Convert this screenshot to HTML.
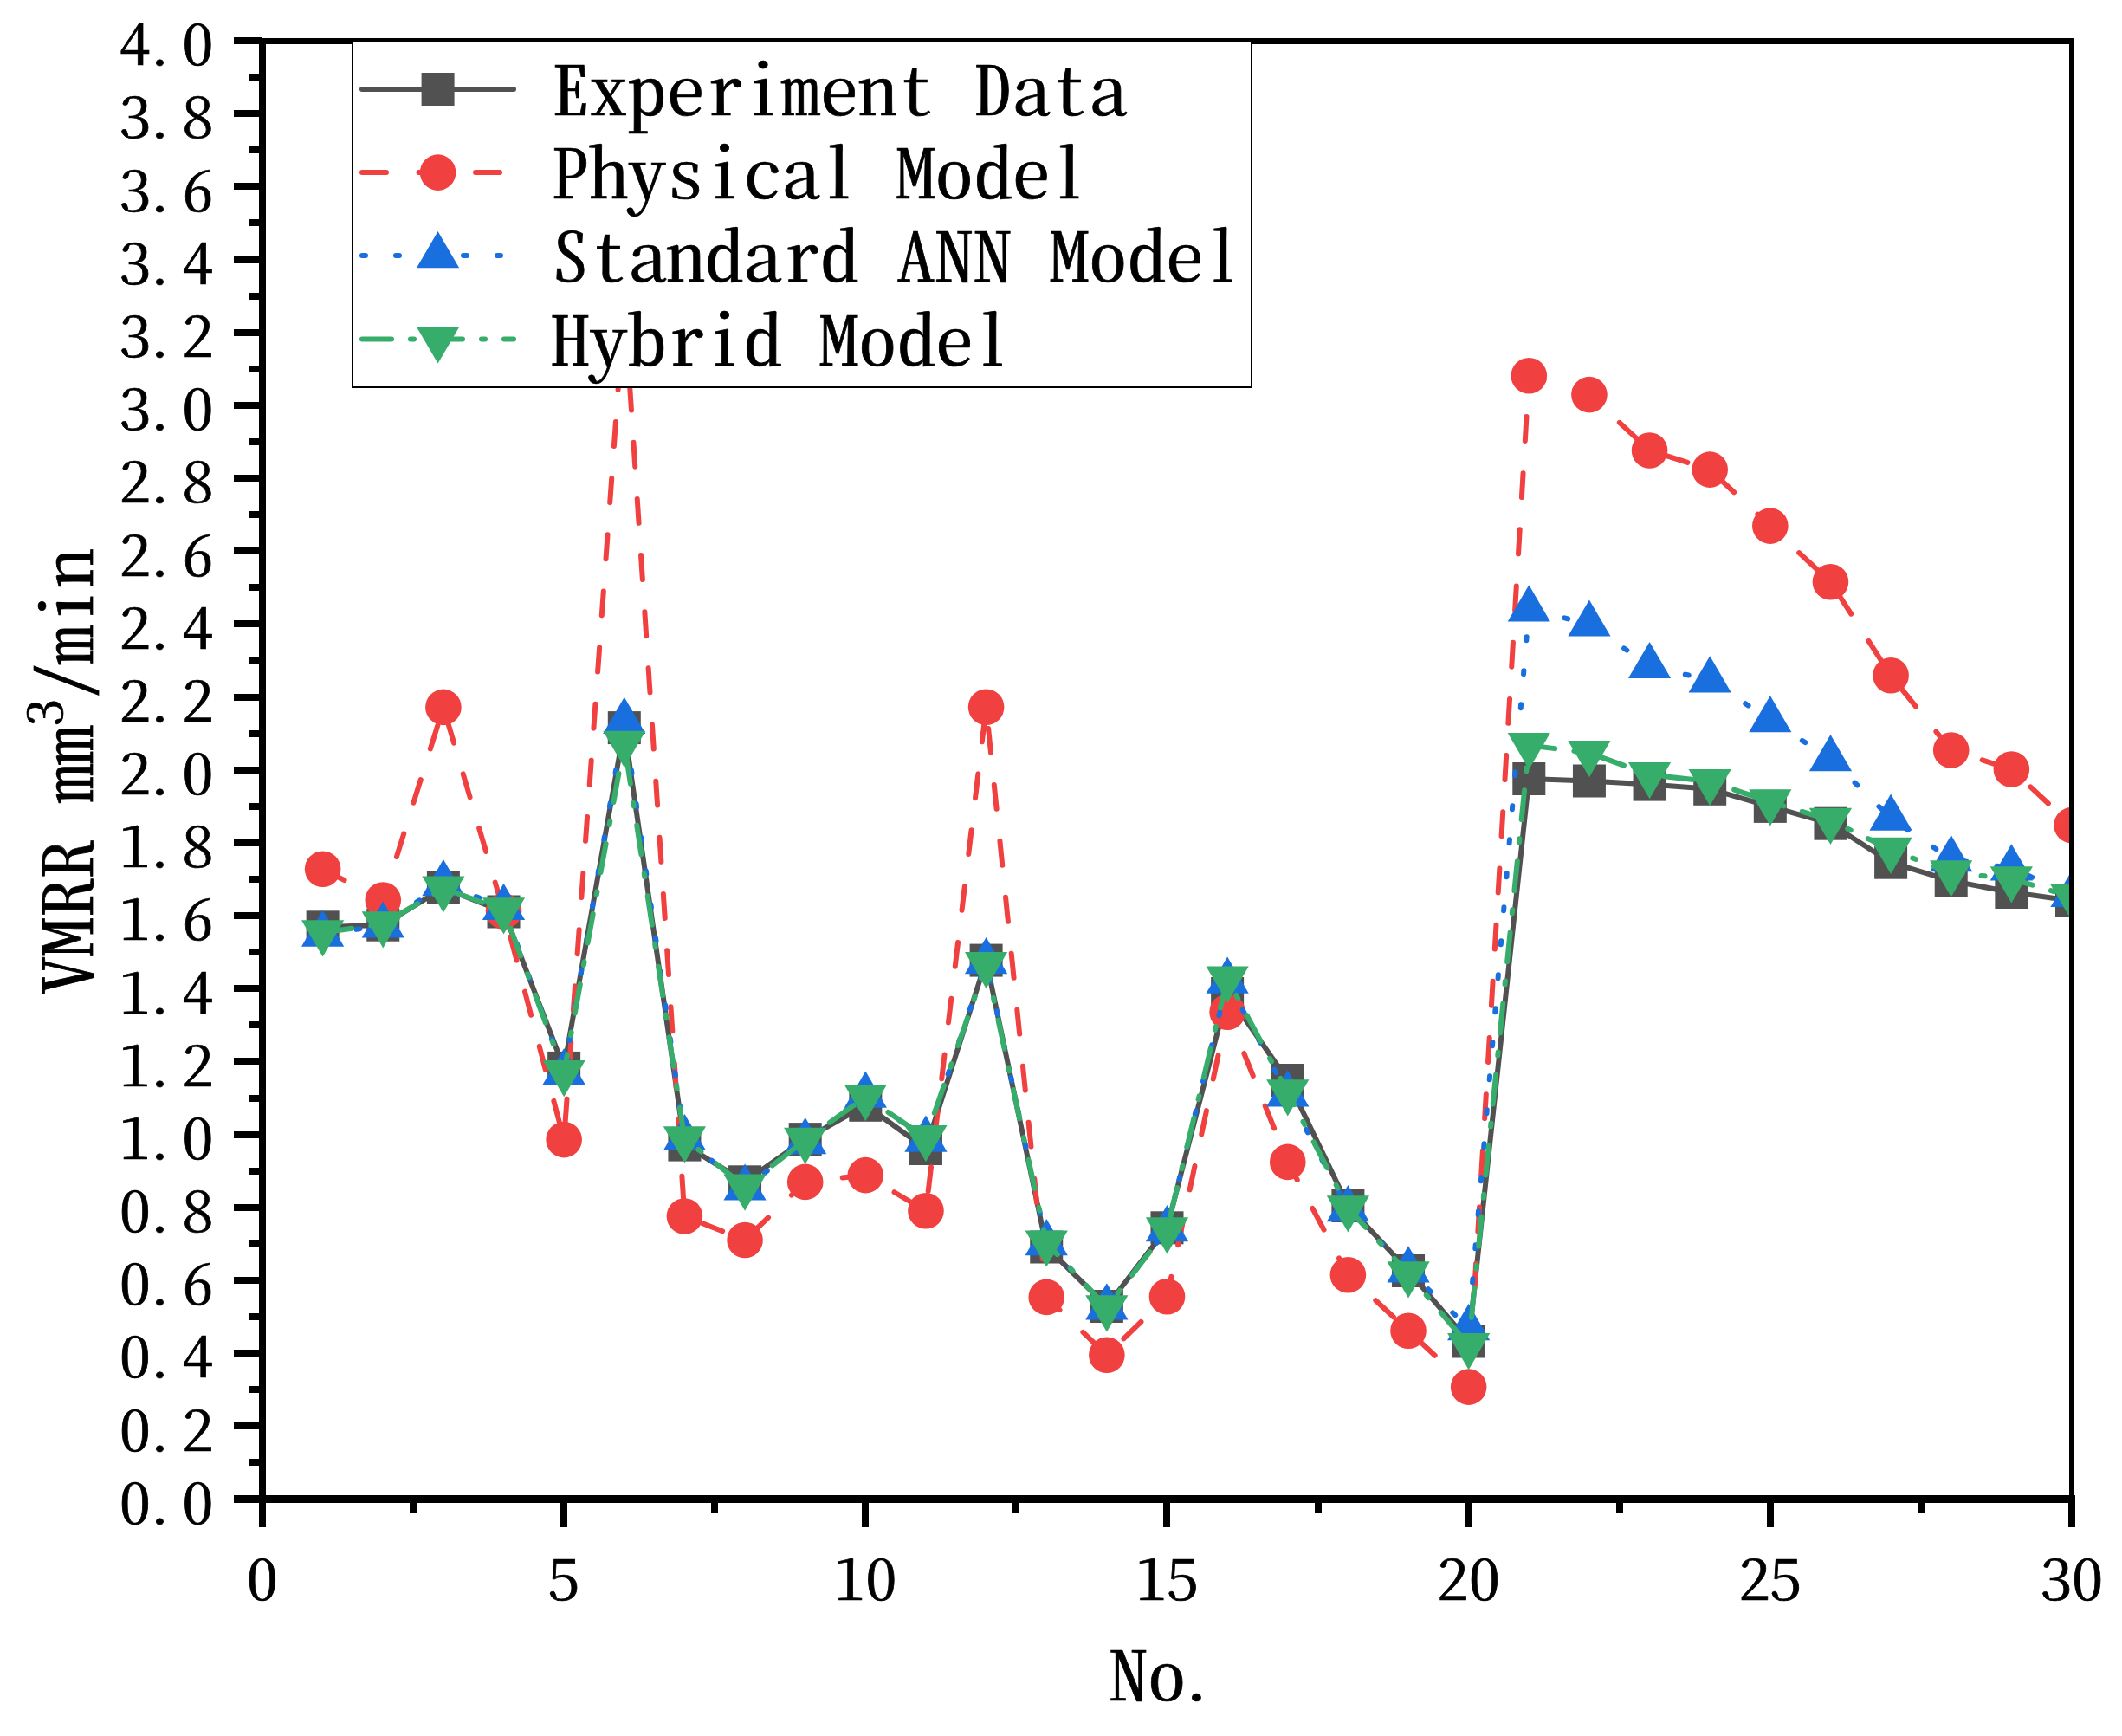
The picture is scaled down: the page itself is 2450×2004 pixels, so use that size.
<!DOCTYPE html>
<html lang="en"><head><meta charset="utf-8"><title>VMRR comparison</title>
<style>html,body{margin:0;padding:0;background:#fff}svg{display:block}text{stroke:#000;stroke-width:0.7px;font-family:'Noto Serif CJK SC','Liberation Serif',serif;font-feature-settings:"hwid";fill:#000;text-anchor:middle;white-space:pre}</style></head><body>
<svg width="2450" height="2004" viewBox="0 0 2450 2004">
<rect width="2450" height="2004" fill="#fff"/>
<defs><clipPath id="pa"><rect x="303" y="47" width="2089" height="1683.5"/></clipPath></defs>
<g clip-path="url(#pa)">
<polyline points="372.63,1070.3 442.27,1067.7 511.9,1025 581.53,1052.5 651.16,1232.9 720.8,840.1 790.43,1321.6 860.06,1364.3 929.7,1315.1 999.33,1275.8 1068.96,1326 1138.6,1108.6 1208.23,1439.5 1277.86,1508 1347.49,1417.3 1417.13,1147 1486.76,1247 1556.39,1392 1626.03,1467 1695.66,1548.5 1765.29,899 1834.93,901.5 1904.56,905.6 1974.19,910.8 2043.82,930.9 2113.46,950.7 2183.09,995.7 2252.72,1016.8 2322.36,1030 2391.99,1039.8" fill="none" stroke="#515151" stroke-width="6" stroke-linejoin="round" stroke-linecap="round"/>
<g fill="#515151"><rect x="353.63" y="1051.3" width="38" height="38"/><rect x="423.27" y="1048.7" width="38" height="38"/><rect x="492.9" y="1006" width="38" height="38"/><rect x="562.53" y="1033.5" width="38" height="38"/><rect x="632.16" y="1213.9" width="38" height="38"/><rect x="701.8" y="821.1" width="38" height="38"/><rect x="771.43" y="1302.6" width="38" height="38"/><rect x="841.06" y="1345.3" width="38" height="38"/><rect x="910.7" y="1296.1" width="38" height="38"/><rect x="980.33" y="1256.8" width="38" height="38"/><rect x="1049.96" y="1307" width="38" height="38"/><rect x="1119.6" y="1089.6" width="38" height="38"/><rect x="1189.23" y="1420.5" width="38" height="38"/><rect x="1258.86" y="1489" width="38" height="38"/><rect x="1328.49" y="1398.3" width="38" height="38"/><rect x="1398.13" y="1128" width="38" height="38"/><rect x="1467.76" y="1228" width="38" height="38"/><rect x="1537.39" y="1373" width="38" height="38"/><rect x="1607.03" y="1448" width="38" height="38"/><rect x="1676.66" y="1529.5" width="38" height="38"/><rect x="1746.29" y="880" width="38" height="38"/><rect x="1815.93" y="882.5" width="38" height="38"/><rect x="1885.56" y="886.6" width="38" height="38"/><rect x="1955.19" y="891.8" width="38" height="38"/><rect x="2024.82" y="911.9" width="38" height="38"/><rect x="2094.46" y="931.7" width="38" height="38"/><rect x="2164.09" y="976.7" width="38" height="38"/><rect x="2233.72" y="997.8" width="38" height="38"/><rect x="2303.36" y="1011" width="38" height="38"/><rect x="2372.99" y="1020.8" width="38" height="38"/></g>
<polyline points="372.63,1003.3 442.27,1039 511.9,816.4 581.53,1052 651.16,1315.6 720.8,350 790.43,1404 860.06,1431.5 929.7,1364.4 999.33,1356.6 1068.96,1397.8 1138.6,816.2 1208.23,1497.4 1277.86,1564.3 1347.49,1496.7 1417.13,1168.2 1486.76,1341.4 1556.39,1471.7 1626.03,1536.2 1695.66,1601.1 1765.29,433.7 1834.93,455.6 1904.56,520 1974.19,542.1 2043.82,607.1 2113.46,671.8 2183.09,779.8 2252.72,866 2322.36,888 2391.99,952.6" fill="none" stroke="#F14040" stroke-width="6" stroke-linejoin="round" stroke-linecap="round" stroke-dasharray="28 37.3"/>
<g fill="#F14040"><circle cx="372.63" cy="1003.3" r="20.8"/><circle cx="442.27" cy="1039" r="20.8"/><circle cx="511.9" cy="816.4" r="20.8"/><circle cx="581.53" cy="1052" r="20.8"/><circle cx="651.16" cy="1315.6" r="20.8"/><circle cx="720.8" cy="350" r="20.8"/><circle cx="790.43" cy="1404" r="20.8"/><circle cx="860.06" cy="1431.5" r="20.8"/><circle cx="929.7" cy="1364.4" r="20.8"/><circle cx="999.33" cy="1356.6" r="20.8"/><circle cx="1068.96" cy="1397.8" r="20.8"/><circle cx="1138.6" cy="816.2" r="20.8"/><circle cx="1208.23" cy="1497.4" r="20.8"/><circle cx="1277.86" cy="1564.3" r="20.8"/><circle cx="1347.49" cy="1496.7" r="20.8"/><circle cx="1417.13" cy="1168.2" r="20.8"/><circle cx="1486.76" cy="1341.4" r="20.8"/><circle cx="1556.39" cy="1471.7" r="20.8"/><circle cx="1626.03" cy="1536.2" r="20.8"/><circle cx="1695.66" cy="1601.1" r="20.8"/><circle cx="1765.29" cy="433.7" r="20.8"/><circle cx="1834.93" cy="455.6" r="20.8"/><circle cx="1904.56" cy="520" r="20.8"/><circle cx="1974.19" cy="542.1" r="20.8"/><circle cx="2043.82" cy="607.1" r="20.8"/><circle cx="2113.46" cy="671.8" r="20.8"/><circle cx="2183.09" cy="779.8" r="20.8"/><circle cx="2252.72" cy="866" r="20.8"/><circle cx="2322.36" cy="888" r="20.8"/><circle cx="2391.99" cy="952.6" r="20.8"/></g>
<polyline points="372.63,1078.5 442.27,1068.4 511.9,1020.1 581.53,1047.8 651.16,1237.9 720.8,832.8 790.43,1313.9 860.06,1371.4 929.7,1318 999.33,1264.6 1068.96,1315.6 1138.6,1110 1208.23,1435.1 1277.86,1509.3 1347.49,1419.1 1417.13,1132.5 1486.76,1263.3 1556.39,1396.1 1626.03,1466.2 1695.66,1533 1765.29,703.3 1834.93,720.4 1904.56,768.9 1974.19,785.2 2043.82,831 2113.46,876 2183.09,944.5 2252.72,992 2322.36,1002.2 2391.99,1032.9" fill="none" stroke="#1A6FDF" stroke-width="6" stroke-linejoin="round" stroke-linecap="round" stroke-dasharray="4 35.146"/>
<g fill="#1A6FDF"><path d="M372.63 1050.5L397.23 1092.7L348.03 1092.7Z"/><path d="M442.27 1040.4L466.87 1082.6L417.67 1082.6Z"/><path d="M511.9 992.1L536.5 1034.3L487.3 1034.3Z"/><path d="M581.53 1019.8L606.13 1062L556.93 1062Z"/><path d="M651.16 1209.9L675.76 1252.1L626.56 1252.1Z"/><path d="M720.8 804.8L745.4 847L696.2 847Z"/><path d="M790.43 1285.9L815.03 1328.1L765.83 1328.1Z"/><path d="M860.06 1343.4L884.66 1385.6L835.46 1385.6Z"/><path d="M929.7 1290L954.3 1332.2L905.1 1332.2Z"/><path d="M999.33 1236.6L1023.93 1278.8L974.73 1278.8Z"/><path d="M1068.96 1287.6L1093.56 1329.8L1044.36 1329.8Z"/><path d="M1138.6 1082L1163.2 1124.2L1114 1124.2Z"/><path d="M1208.23 1407.1L1232.83 1449.3L1183.63 1449.3Z"/><path d="M1277.86 1481.3L1302.46 1523.5L1253.26 1523.5Z"/><path d="M1347.49 1391.1L1372.09 1433.3L1322.89 1433.3Z"/><path d="M1417.13 1104.5L1441.73 1146.7L1392.53 1146.7Z"/><path d="M1486.76 1235.3L1511.36 1277.5L1462.16 1277.5Z"/><path d="M1556.39 1368.1L1580.99 1410.3L1531.79 1410.3Z"/><path d="M1626.03 1438.2L1650.63 1480.4L1601.43 1480.4Z"/><path d="M1695.66 1505L1720.26 1547.2L1671.06 1547.2Z"/><path d="M1765.29 675.3L1789.89 717.5L1740.69 717.5Z"/><path d="M1834.93 692.4L1859.53 734.6L1810.33 734.6Z"/><path d="M1904.56 740.9L1929.16 783.1L1879.96 783.1Z"/><path d="M1974.19 757.2L1998.79 799.4L1949.59 799.4Z"/><path d="M2043.82 803L2068.42 845.2L2019.22 845.2Z"/><path d="M2113.46 848L2138.06 890.2L2088.86 890.2Z"/><path d="M2183.09 916.5L2207.69 958.7L2158.49 958.7Z"/><path d="M2252.72 964L2277.32 1006.2L2228.12 1006.2Z"/><path d="M2322.36 974.2L2346.96 1016.4L2297.76 1016.4Z"/><path d="M2391.99 1004.9L2416.59 1047.1L2367.39 1047.1Z"/></g>
<polyline points="372.63,1076.5 442.27,1066.5 511.9,1025.6 581.53,1050.5 651.16,1238.2 720.8,858 790.43,1314.4 860.06,1369.8 929.7,1316 999.33,1266.3 1068.96,1313.3 1138.6,1113.3 1208.23,1434.6 1277.86,1509.5 1347.49,1419.5 1417.13,1129.8 1486.76,1260.5 1556.39,1394.5 1626.03,1470.4 1695.66,1553.2 1765.29,860.3 1834.93,869.2 1904.56,894.2 1974.19,902.2 2043.82,925.5 2113.46,947 2183.09,981 2252.72,1007.4 2322.36,1014.5 2391.99,1035.2" fill="none" stroke="#37AD6B" stroke-width="6" stroke-linejoin="round" stroke-linecap="round" stroke-dasharray="34 22.25 4 22.25"/>
<g fill="#37AD6B"><path d="M372.63 1104.5L397.23 1062.3L348.03 1062.3Z"/><path d="M442.27 1094.5L466.87 1052.3L417.67 1052.3Z"/><path d="M511.9 1053.6L536.5 1011.4L487.3 1011.4Z"/><path d="M581.53 1078.5L606.13 1036.3L556.93 1036.3Z"/><path d="M651.16 1266.2L675.76 1224L626.56 1224Z"/><path d="M720.8 886L745.4 843.8L696.2 843.8Z"/><path d="M790.43 1342.4L815.03 1300.2L765.83 1300.2Z"/><path d="M860.06 1397.8L884.66 1355.6L835.46 1355.6Z"/><path d="M929.7 1344L954.3 1301.8L905.1 1301.8Z"/><path d="M999.33 1294.3L1023.93 1252.1L974.73 1252.1Z"/><path d="M1068.96 1341.3L1093.56 1299.1L1044.36 1299.1Z"/><path d="M1138.6 1141.3L1163.2 1099.1L1114 1099.1Z"/><path d="M1208.23 1462.6L1232.83 1420.4L1183.63 1420.4Z"/><path d="M1277.86 1537.5L1302.46 1495.3L1253.26 1495.3Z"/><path d="M1347.49 1447.5L1372.09 1405.3L1322.89 1405.3Z"/><path d="M1417.13 1157.8L1441.73 1115.6L1392.53 1115.6Z"/><path d="M1486.76 1288.5L1511.36 1246.3L1462.16 1246.3Z"/><path d="M1556.39 1422.5L1580.99 1380.3L1531.79 1380.3Z"/><path d="M1626.03 1498.4L1650.63 1456.2L1601.43 1456.2Z"/><path d="M1695.66 1581.2L1720.26 1539L1671.06 1539Z"/><path d="M1765.29 888.3L1789.89 846.1L1740.69 846.1Z"/><path d="M1834.93 897.2L1859.53 855L1810.33 855Z"/><path d="M1904.56 922.2L1929.16 880L1879.96 880Z"/><path d="M1974.19 930.2L1998.79 888L1949.59 888Z"/><path d="M2043.82 953.5L2068.42 911.3L2019.22 911.3Z"/><path d="M2113.46 975L2138.06 932.8L2088.86 932.8Z"/><path d="M2183.09 1009L2207.69 966.8L2158.49 966.8Z"/><path d="M2252.72 1035.4L2277.32 993.2L2228.12 993.2Z"/><path d="M2322.36 1042.5L2346.96 1000.3L2297.76 1000.3Z"/><path d="M2391.99 1063.2L2416.59 1021L2367.39 1021Z"/></g>
</g>
<g fill="#000">
<rect x="299" y="44" width="8" height="1719"/>
<rect x="270" y="1726" width="2126" height="9"/>
<rect x="303" y="44" width="2092" height="7"/>
<rect x="2389" y="44" width="6" height="1691"/>
<rect x="270" y="1726" width="33" height="8"/>
<rect x="287" y="1684" width="16" height="8"/>
<rect x="270" y="1642" width="33" height="8"/>
<rect x="287" y="1600" width="16" height="8"/>
<rect x="270" y="1558" width="33" height="8"/>
<rect x="287" y="1516" width="16" height="8"/>
<rect x="270" y="1474" width="33" height="8"/>
<rect x="287" y="1432" width="16" height="8"/>
<rect x="270" y="1390" width="33" height="8"/>
<rect x="287" y="1348" width="16" height="8"/>
<rect x="270" y="1306" width="33" height="8"/>
<rect x="287" y="1264" width="16" height="8"/>
<rect x="270" y="1221" width="33" height="8"/>
<rect x="287" y="1179" width="16" height="8"/>
<rect x="270" y="1137" width="33" height="8"/>
<rect x="287" y="1095" width="16" height="8"/>
<rect x="270" y="1053" width="33" height="8"/>
<rect x="287" y="1011" width="16" height="8"/>
<rect x="270" y="969" width="33" height="8"/>
<rect x="287" y="927" width="16" height="8"/>
<rect x="270" y="885" width="33" height="8"/>
<rect x="287" y="843" width="16" height="8"/>
<rect x="270" y="801" width="33" height="8"/>
<rect x="287" y="758" width="16" height="8"/>
<rect x="270" y="716" width="33" height="8"/>
<rect x="287" y="674" width="16" height="8"/>
<rect x="270" y="632" width="33" height="8"/>
<rect x="287" y="590" width="16" height="8"/>
<rect x="270" y="548" width="33" height="8"/>
<rect x="287" y="506" width="16" height="8"/>
<rect x="270" y="464" width="33" height="8"/>
<rect x="287" y="422" width="16" height="8"/>
<rect x="270" y="380" width="33" height="8"/>
<rect x="287" y="338" width="16" height="8"/>
<rect x="270" y="296" width="33" height="8"/>
<rect x="287" y="253" width="16" height="8"/>
<rect x="270" y="211" width="33" height="8"/>
<rect x="287" y="169" width="16" height="8"/>
<rect x="270" y="127" width="33" height="8"/>
<rect x="287" y="85" width="16" height="8"/>
<rect x="270" y="43" width="33" height="8"/>
<rect x="299" y="1730" width="8" height="33"/>
<rect x="473" y="1730" width="8" height="17"/>
<rect x="647" y="1730" width="8" height="33"/>
<rect x="821" y="1730" width="8" height="17"/>
<rect x="995" y="1730" width="8" height="33"/>
<rect x="1169" y="1730" width="8" height="17"/>
<rect x="1343" y="1730" width="8" height="33"/>
<rect x="1518" y="1730" width="8" height="17"/>
<rect x="1692" y="1730" width="8" height="33"/>
<rect x="1866" y="1730" width="8" height="17"/>
<rect x="2040" y="1730" width="8" height="33"/>
<rect x="2214" y="1730" width="8" height="17"/>
<rect x="2388" y="1730" width="8" height="33"/>
</g>
<g>
<text transform="translate(0 1758.8) scale(1.147 1)" font-size="63.3" x="135.92 160.85 199.22" y="0">0.0</text>
<text transform="translate(0 1674.62) scale(1.147 1)" font-size="63.3" x="135.92 160.85 199.22" y="0">0.2</text>
<text transform="translate(0 1590.45) scale(1.147 1)" font-size="63.3" x="135.92 160.85 199.22" y="0">0.4</text>
<text transform="translate(0 1506.27) scale(1.147 1)" font-size="63.3" x="135.92 160.85 199.22" y="0">0.6</text>
<text transform="translate(0 1422.1) scale(1.147 1)" font-size="63.3" x="135.92 160.85 199.22" y="0">0.8</text>
<text transform="translate(0 1337.92) scale(1.147 1)" font-size="63.3" x="135.92 160.85 199.22" y="0">1.0</text>
<text transform="translate(0 1253.75) scale(1.147 1)" font-size="63.3" x="135.92 160.85 199.22" y="0">1.2</text>
<text transform="translate(0 1169.58) scale(1.147 1)" font-size="63.3" x="135.92 160.85 199.22" y="0">1.4</text>
<text transform="translate(0 1085.4) scale(1.147 1)" font-size="63.3" x="135.92 160.85 199.22" y="0">1.6</text>
<text transform="translate(0 1001.22) scale(1.147 1)" font-size="63.3" x="135.92 160.85 199.22" y="0">1.8</text>
<text transform="translate(0 917.05) scale(1.147 1)" font-size="63.3" x="135.92 160.85 199.22" y="0">2.0</text>
<text transform="translate(0 832.87) scale(1.147 1)" font-size="63.3" x="135.92 160.85 199.22" y="0">2.2</text>
<text transform="translate(0 748.7) scale(1.147 1)" font-size="63.3" x="135.92 160.85 199.22" y="0">2.4</text>
<text transform="translate(0 664.52) scale(1.147 1)" font-size="63.3" x="135.92 160.85 199.22" y="0">2.6</text>
<text transform="translate(0 580.35) scale(1.147 1)" font-size="63.3" x="135.92 160.85 199.22" y="0">2.8</text>
<text transform="translate(0 496.18) scale(1.147 1)" font-size="63.3" x="135.92 160.85 199.22" y="0">3.0</text>
<text transform="translate(0 412) scale(1.147 1)" font-size="63.3" x="135.92 160.85 199.22" y="0">3.2</text>
<text transform="translate(0 327.83) scale(1.147 1)" font-size="63.3" x="135.92 160.85 199.22" y="0">3.4</text>
<text transform="translate(0 243.65) scale(1.147 1)" font-size="63.3" x="135.92 160.85 199.22" y="0">3.6</text>
<text transform="translate(0 159.48) scale(1.147 1)" font-size="63.3" x="135.92 160.85 199.22" y="0">3.8</text>
<text transform="translate(0 75.3) scale(1.147 1)" font-size="63.3" x="135.92 160.85 199.22" y="0">4.0</text>
</g>
<g>
<text transform="translate(303 1846.5) scale(1.147 1)" font-size="63.3" x="0" y="0">0</text>
<text transform="translate(651.16 1846.5) scale(1.147 1)" font-size="63.3" x="0" y="0">5</text>
<text transform="translate(999.33 1846.5) scale(1.147 1)" font-size="63.3" x="-15.82 15.82" y="0">10</text>
<text transform="translate(1347.49 1846.5) scale(1.147 1)" font-size="63.3" x="-15.82 15.82" y="0">15</text>
<text transform="translate(1695.66 1846.5) scale(1.147 1)" font-size="63.3" x="-15.82 15.82" y="0">20</text>
<text transform="translate(2043.82 1846.5) scale(1.147 1)" font-size="63.3" x="-15.82 15.82" y="0">25</text>
<text transform="translate(2391.99 1846.5) scale(1.147 1)" font-size="63.3" x="-15.82 15.82" y="0">30</text>
</g>
<text transform="translate(0 1963) scale(1.147 1)" font-size="77.3" x="1135.92 1174.54 1204.45" y="0">No.</text>
<text transform="translate(107 1148.2) rotate(-90) scale(1.147 1)" font-size="77.3" x="19.35 57.98 96.6 135.31 173.93 212.55 251.26" y="0">VMRR mm<tspan x="283.78" dy="-34.9" font-size="54.11">3</tspan><tspan x="316.04" dy="27.9">/</tspan><tspan x="351.96 390.58 429.29" dy="7">min</tspan></text>
<rect x="407" y="47" width="1038" height="400" fill="#fff" stroke="#000" stroke-width="2"/>
<line x1="418" y1="103" x2="593" y2="103" stroke="#515151" stroke-width="6" stroke-linecap="round"/>
<rect x="486.6" y="84" width="38" height="38" fill="#515151"/>
<line x1="418" y1="199.1" x2="593" y2="199.1" stroke="#F14040" stroke-width="6" stroke-linecap="round" stroke-dasharray="28 37.5"/>
<circle cx="505.6" cy="199.1" r="20.8" fill="#F14040"/>
<line x1="418" y1="295.1" x2="593" y2="295.1" stroke="#1A6FDF" stroke-width="6" stroke-linecap="round" stroke-dasharray="4 35"/>
<g fill="#1A6FDF"><path d="M505.6 267.1L530.2 309.3L481 309.3Z"/></g>
<line x1="418" y1="391.6" x2="593" y2="391.6" stroke="#37AD6B" stroke-width="6" stroke-linecap="round" stroke-dasharray="34 22 4 22"/>
<g fill="#37AD6B"><path d="M505.6 419.6L530.2 377.4L481 377.4Z"/></g>
<text transform="translate(0 133) scale(1.147 1)" font-size="77.3" x="574.08 612.72 651.37 690.02 728.67 767.32 805.97 844.62 883.27 921.91 960.56 999.21 1037.86 1076.51 1115.16" y="0">Experiment Data</text>
<text transform="translate(0 229.1) scale(1.147 1)" font-size="77.3" x="574.08 612.72 651.37 690.02 728.67 767.32 805.97 844.62 883.27 921.91 960.56 999.21 1037.86 1076.51" y="0">Physical Model</text>
<text transform="translate(0 325.1) scale(1.147 1)" font-size="77.3" x="574.08 612.72 651.37 690.02 728.67 767.32 805.97 844.62 883.27 921.91 960.56 999.21 1037.86 1076.51 1115.16 1153.81 1192.45 1231.1" y="0">Standard ANN Model</text>
<text transform="translate(0 421.6) scale(1.147 1)" font-size="77.3" x="574.08 612.72 651.37 690.02 728.67 767.32 805.97 844.62 883.27 921.91 960.56 999.21" y="0">Hybrid Model</text>
</svg></body></html>
